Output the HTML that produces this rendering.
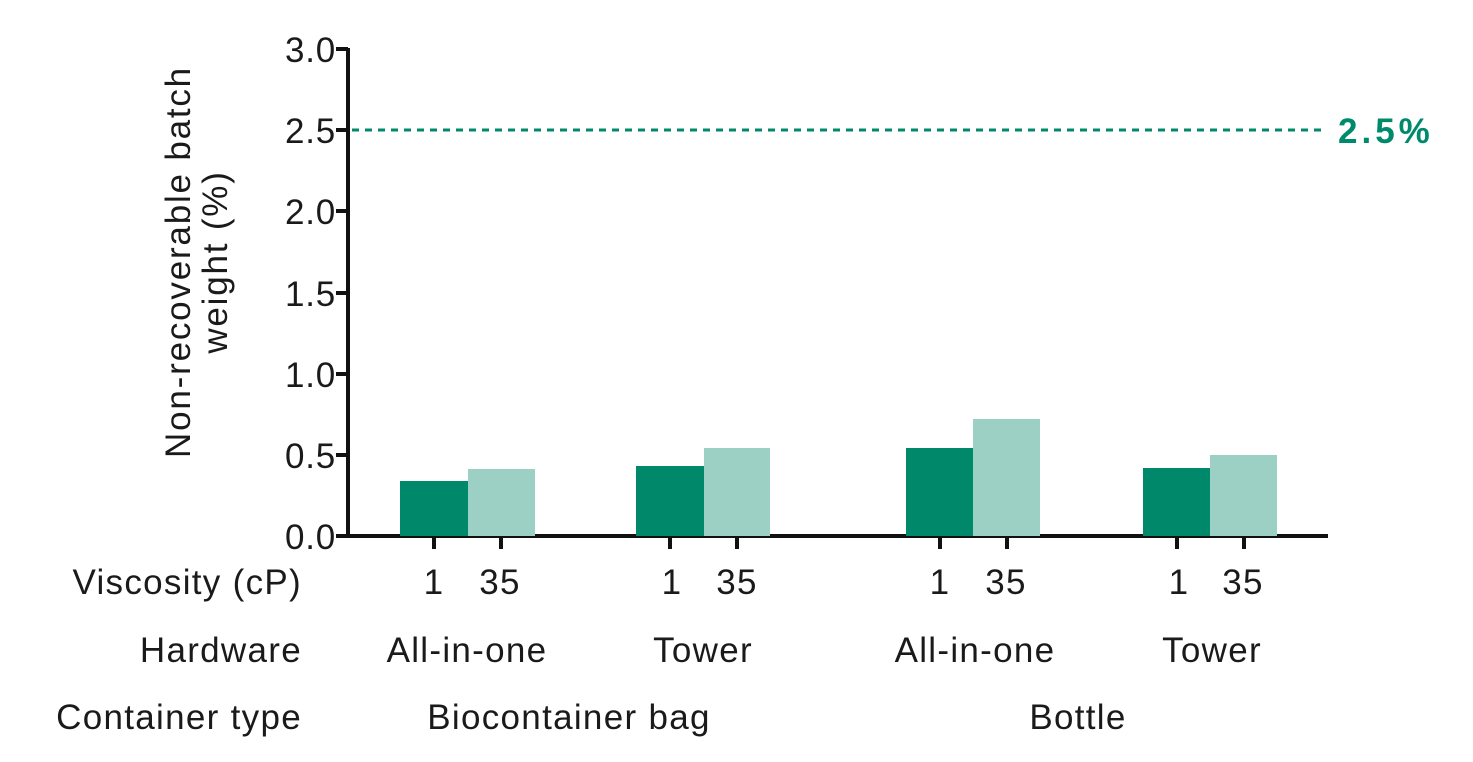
<!DOCTYPE html>
<html><head><style>body{margin:0;background:#fff}svg{display:block}</style></head><body>
<svg width="1473" height="762" xmlns="http://www.w3.org/2000/svg" font-family="Liberation Sans, sans-serif" font-size="35" letter-spacing="1.3" fill="#1a1a1a">
<line x1="348" y1="48" x2="348" y2="538" stroke="#111" stroke-width="4"/>
<line x1="346" y1="536" x2="1328" y2="536" stroke="#111" stroke-width="4"/>
<g stroke="#111" stroke-width="4">
<line x1="336" y1="49" x2="348" y2="49"/><line x1="336" y1="130" x2="348" y2="130"/><line x1="336" y1="211" x2="348" y2="211"/><line x1="336" y1="293" x2="348" y2="293"/><line x1="336" y1="374" x2="348" y2="374"/><line x1="336" y1="455" x2="348" y2="455"/><line x1="336" y1="536" x2="348" y2="536"/>
<line x1="434" y1="536" x2="434" y2="549"/><line x1="501" y1="536" x2="501" y2="549"/>
<line x1="670" y1="536" x2="670" y2="549"/><line x1="737" y1="536" x2="737" y2="549"/>
<line x1="940" y1="536" x2="940" y2="549"/><line x1="1007" y1="536" x2="1007" y2="549"/>
<line x1="1177" y1="536" x2="1177" y2="549"/><line x1="1244" y1="536" x2="1244" y2="549"/>
</g>
<g text-anchor="end" letter-spacing="0.8">
<text x="336" y="62">3.0</text><text x="336" y="143">2.5</text><text x="336" y="224">2.0</text><text x="336" y="306">1.5</text><text x="336" y="387">1.0</text><text x="336" y="468">0.5</text><text x="336" y="549">0.0</text>
</g>
<line x1="352" y1="130" x2="1325" y2="130" stroke="#008a6c" stroke-width="3" stroke-dasharray="7,6"/>
<text x="1338" y="143" fill="#008a6c" font-weight="bold" font-size="35" letter-spacing="4">2.5%</text>
<g fill="#00886a">
<rect x="400" y="481" width="68" height="55"/><rect x="636" y="466" width="68" height="70"/><rect x="906" y="448" width="67" height="88"/><rect x="1143" y="468" width="67" height="68"/>
</g>
<g fill="#9dd0c5">
<rect x="468" y="469" width="67" height="67"/><rect x="704" y="448" width="66" height="88"/><rect x="973" y="419" width="67" height="117"/><rect x="1210" y="455" width="67" height="81"/>
</g>
<text transform="translate(190,262) rotate(-90)" text-anchor="middle" letter-spacing="1.8"><tspan x="0" y="0">Non-recoverable batch</tspan><tspan x="0" y="37">weight (%)</tspan></text>
<g text-anchor="end"><text x="302" y="594">Viscosity (cP)</text><text x="302" y="662">Hardware</text><text x="302" y="729">Container type</text></g>
<g text-anchor="middle">
<text x="434" y="594">1</text><text x="500" y="594">35</text><text x="672" y="594">1</text><text x="737" y="594">35</text><text x="940" y="594">1</text><text x="1006" y="594">35</text><text x="1179" y="594">1</text><text x="1243" y="594">35</text>
<text x="467" y="662">All-in-one</text><text x="703" y="662">Tower</text><text x="975" y="662">All-in-one</text><text x="1212" y="662">Tower</text>
<text x="569" y="729">Biocontainer bag</text><text x="1078" y="729">Bottle</text>
</g>
</svg>
</body></html>
